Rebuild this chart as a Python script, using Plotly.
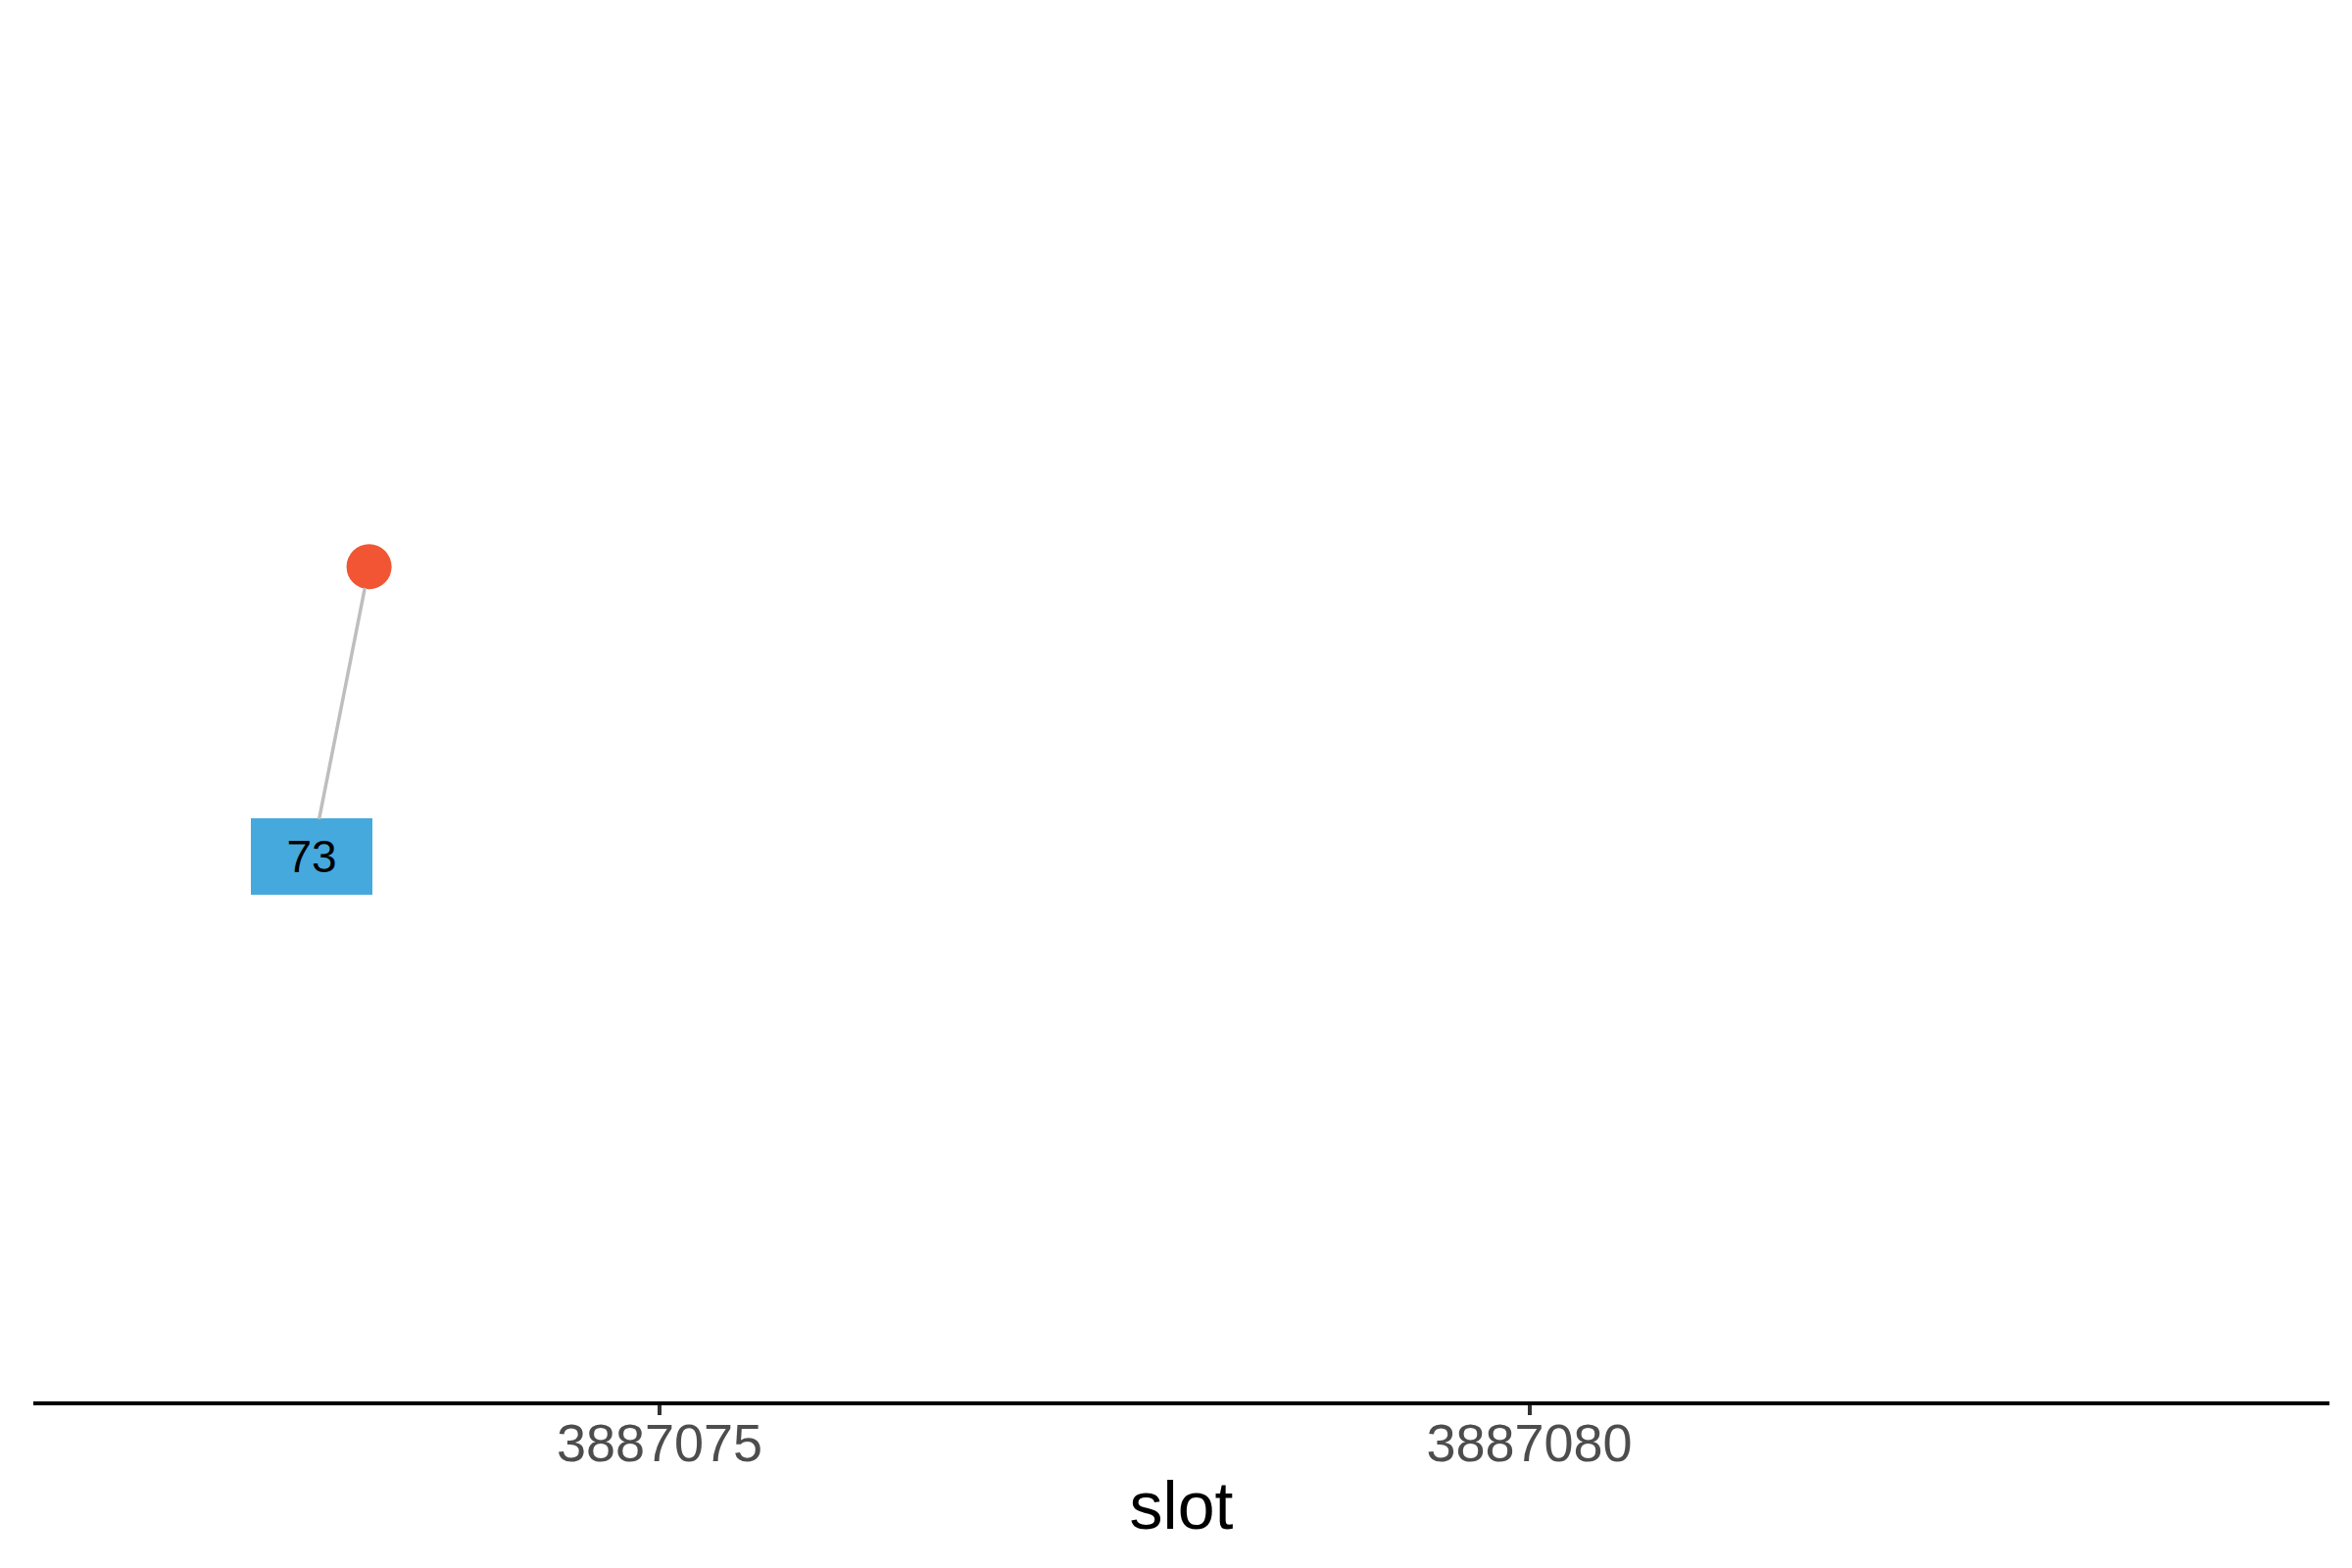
import plotly.graph_objects as go

# data
slot = [3887073.33]
height = [0.604]
label_slot = [3887073.0]
label_height = [0.394]
labels = ["73"]
tick_vals = [3887075, 3887080]
tick_text = ["3887075", "3887080"]
x_range = [3887071.4, 3887084.6]

fig = go.Figure()

fig.add_trace(go.Scatter(
    x=slot,
    y=height,
    mode="markers",
    marker=dict(color="#F15533", size=46, line=dict(width=0)),
    hoverinfo="skip",
    showlegend=False,
))

# label box with connector line back to the point
for xs, ys, lx, ly, txt in zip(slot, height, label_slot, label_height, labels):
    fig.add_annotation(
        x=xs, y=ys, xref="x", yref="y",
        ax=lx, ay=ly, axref="x", ayref="y",
        text=txt,
        showarrow=True, arrowhead=0, arrowwidth=3.5, arrowcolor="#BEBEBE",
        standoff=22,
        bgcolor="#45A9DD", bordercolor="#45A9DD", borderwidth=1, borderpad=0,
        width=122, height=76,
        font=dict(family="Liberation Sans, Arial, sans-serif", size=46, color="#000000"),
    )

# page has an 8px body margin, so pull the margins in by that much
fig.update_layout(
    width=2400, height=1600,
    paper_bgcolor="white", plot_bgcolor="white",
    margin=dict(l=26, r=31, t=12, b=178),
    font=dict(family="Liberation Sans, Arial, sans-serif"),
    showlegend=False,
)

fig.update_xaxes(
    range=x_range,
    tickvals=tick_vals, ticktext=tick_text,
    showgrid=False, zeroline=False,
    showline=True, linecolor="#000000", linewidth=4,
    ticks="outside", ticklen=10, tickwidth=4, tickcolor="#333333",
    tickfont=dict(size=54, color="#4D4D4D"),
    ticklabelstandoff=-18,
    title=dict(text="slot", font=dict(size=68, color="#000000"), standoff=13),
)
fig.update_yaxes(range=[0, 1], visible=False, showgrid=False, zeroline=False)

fig.write_html("out.html")
